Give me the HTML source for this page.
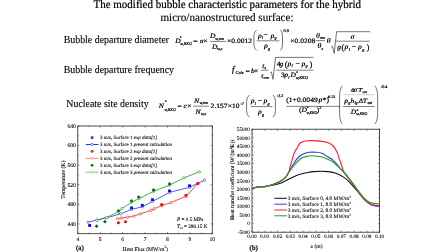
<!DOCTYPE html>
<html><head><meta charset="utf-8"><title>Bubble parameters</title>
<style>
html,body{margin:0;padding:0;background:#fff;}
body{width:448px;height:252px;overflow:hidden;}
svg{display:block;}
svg text{font-family:'Liberation Serif','Times New Roman',serif;text-rendering:geometricPrecision;}
</style></head><body>
<svg width="448" height="252" viewBox="0 0 448 252">
<rect width="448" height="252" fill="#fff"/>
<text transform="translate(227.20,7.80) scale(0.955,1)" font-size="11.5" text-anchor="middle" stroke="#000" stroke-width="0.22">The modified bubble characteristic parameters for the hybrid</text>
<text transform="translate(227.00,20.80) scale(0.977,1)" font-size="11.4" text-anchor="middle" stroke="#000" stroke-width="0.12">micro/nanostructured surface:</text>
<text transform="translate(63.70,43.40) scale(0.925,1)" font-size="10.7" stroke="#000" stroke-width="0.12">Bubble departure diameter</text>
<text transform="translate(63.70,72.80) scale(0.925,1)" font-size="10.7" stroke="#000" stroke-width="0.12">Bubble departure frequency</text>
<text transform="translate(66.30,106.50) scale(0.925,1)" font-size="10.7" stroke="#000" stroke-width="0.12">Nucleate site density</text>
<text transform="translate(175.20,43.20) scale(1.15,1)" font-size="6.6" font-style="italic" stroke="#000" stroke-width="0.2">D</text>
<text x="179.70" y="39.00" font-size="4.2" stroke="#000" stroke-width="0.2">*</text>
<text transform="translate(180.30,45.00) scale(0.95,1)" font-size="4.2" font-style="italic" stroke="#000" stroke-width="0.2">w,KKO</text>
<text transform="translate(193.20,43.20) scale(1.15,1)" font-size="6.6" stroke="#000" stroke-width="0.2">=</text>
<text transform="translate(199.80,43.20) scale(1.15,1)" font-size="6.6" font-style="italic" stroke="#000" stroke-width="0.2">a</text>
<text transform="translate(203.20,43.20) scale(1.15,1)" font-size="6.6" stroke="#000" stroke-width="0.2">×</text>
<text transform="translate(210.10,38.20) scale(1.15,1)" font-size="6.6" font-style="italic" stroke="#000" stroke-width="0.2">D</text>
<text x="215.30" y="39.70" font-size="4.2" font-style="italic" stroke="#000" stroke-width="0.2">w,nm</text>
<line x1="210.1" y1="41.4" x2="226.2" y2="41.4" stroke="#000" stroke-width="0.5"/>
<text transform="translate(212.00,48.50) scale(1.15,1)" font-size="6.6" font-style="italic" stroke="#000" stroke-width="0.2">D</text>
<text x="217.20" y="50.10" font-size="4.2" font-style="italic" stroke="#000" stroke-width="0.2">w,s</text>
<text transform="translate(227.00,43.20) scale(1.15,1)" font-size="6.6" stroke="#000" stroke-width="0.2">×0.0012</text>
<path d="M256.60,30.00 Q253.90,31.63 253.90,36.12 L253.90,44.28 Q253.90,48.77 256.60,50.40" stroke="#000" stroke-width="0.55" fill="none"/>
<text x="258.00" y="37.60" font-size="7.6" font-style="italic" font-weight="bold">ρ</text>
<text x="262.00" y="39.00" font-size="4.2" font-style="italic" stroke="#000" stroke-width="0.2">l</text>
<text transform="translate(263.60,37.40) scale(1.15,1)" font-size="6.6" stroke="#000" stroke-width="0.2">−</text>
<text x="270.40" y="37.60" font-size="7.6" font-style="italic" font-weight="bold">ρ</text>
<text x="274.40" y="39.00" font-size="4.2" font-style="italic" stroke="#000" stroke-width="0.2">g</text>
<line x1="256.7" y1="40.8" x2="279.4" y2="40.8" stroke="#000" stroke-width="0.5"/>
<text x="264.00" y="48.30" font-size="7.6" font-style="italic" font-weight="bold">ρ</text>
<text x="268.00" y="49.70" font-size="4.2" font-style="italic" stroke="#000" stroke-width="0.2">g</text>
<path d="M280.40,29.80 Q282.50,31.45 282.50,35.98 L282.50,44.22 Q282.50,48.75 280.40,50.40" stroke="#000" stroke-width="0.55" fill="none"/>
<text x="283.60" y="32.40" font-size="4.2" stroke="#000" stroke-width="0.2">0.9</text>
<text transform="translate(290.20,43.40) scale(1.15,1)" font-size="6.6" stroke="#000" stroke-width="0.2">×0.0208</text>
<text x="316.10" y="37.80" font-size="7.6" font-style="italic" font-weight="bold">θ</text>
<text x="320.00" y="39.40" font-size="4.2" font-style="italic" stroke="#000" stroke-width="0.2">nm</text>
<line x1="315.7" y1="40.6" x2="324.8" y2="40.6" stroke="#000" stroke-width="0.5"/>
<text x="317.60" y="48.20" font-size="7.6" font-style="italic" font-weight="bold">θ</text>
<text x="321.40" y="49.60" font-size="4.2" font-style="italic" stroke="#000" stroke-width="0.2">s</text>
<text x="326.80" y="43.30" font-size="7.6" font-style="italic" font-weight="bold">θ</text>
<path d="M331.3,47.2 L332.4,46.2 L334.2,53.3 L336.6,31.7 L370.2,31.7" stroke="#000" stroke-width="0.55" fill="none"/>
<text x="350.60" y="38.70" font-size="7.6" font-style="italic" font-weight="bold">σ</text>
<line x1="336.0" y1="41.2" x2="369.8" y2="41.2" stroke="#000" stroke-width="0.5"/>
<text transform="translate(337.30,49.30) scale(1.15,1)" font-size="6.6" font-style="italic" stroke="#000" stroke-width="0.2">g</text>
<text x="341.40" y="49.80" font-size="8.6" stroke="#000" stroke-width="0.2">(</text>
<text x="344.60" y="49.30" font-size="7.6" font-style="italic" font-weight="bold">ρ</text>
<text x="348.80" y="50.70" font-size="4.2" font-style="italic" stroke="#000" stroke-width="0.2">l</text>
<text transform="translate(351.80,49.30) scale(1.15,1)" font-size="6.6" stroke="#000" stroke-width="0.2">−</text>
<text x="358.00" y="49.30" font-size="7.6" font-style="italic" font-weight="bold">ρ</text>
<text x="362.20" y="50.70" font-size="4.2" font-style="italic" stroke="#000" stroke-width="0.2">g</text>
<text x="366.40" y="49.80" font-size="8.6" stroke="#000" stroke-width="0.2">)</text>
<text x="232.00" y="72.30" font-size="8.8" font-style="italic" stroke="#000" stroke-width="0.25">f</text>
<text x="235.60" y="73.60" font-size="4.2" font-style="italic" stroke="#000" stroke-width="0.2">Cole</text>
<text transform="translate(245.40,72.50) scale(1.15,1)" font-size="6.6" stroke="#000" stroke-width="0.2">=</text>
<text transform="translate(250.90,72.50) scale(1.15,1)" font-size="6.6" font-style="italic" stroke="#000" stroke-width="0.2">b</text>
<text x="254.40" y="72.50" font-size="6.6" stroke="#000" stroke-width="0.2">×</text>
<text transform="translate(262.30,68.00) scale(1.15,1)" font-size="6.6" font-style="italic" stroke="#000" stroke-width="0.2">t</text>
<text x="264.60" y="69.20" font-size="4.2" font-style="italic" stroke="#000" stroke-width="0.2">s</text>
<line x1="260.8" y1="70.2" x2="268.6" y2="70.2" stroke="#000" stroke-width="0.5"/>
<text transform="translate(261.30,78.00) scale(1.15,1)" font-size="6.6" font-style="italic" stroke="#000" stroke-width="0.2">t</text>
<text x="263.60" y="79.20" font-size="4.2" font-style="italic" stroke="#000" stroke-width="0.2">nm</text>
<path d="M270.4,72.6 L271.4,71.8 L273.0,79.3 L275.5,57.4 L313.4,57.4" stroke="#000" stroke-width="0.55" fill="none"/>
<text transform="translate(276.80,66.00) scale(1.15,1)" font-size="6.6" stroke="#000" stroke-width="0.2">4</text>
<text transform="translate(279.40,66.00) scale(1.15,1)" font-size="6.6" font-style="italic" stroke="#000" stroke-width="0.2">g</text>
<text x="284.80" y="66.60" font-size="8.6" stroke="#000" stroke-width="0.2">(</text>
<text x="287.60" y="66.00" font-size="7.6" font-style="italic" font-weight="bold">ρ</text>
<text x="291.40" y="67.40" font-size="4.2" font-style="italic" stroke="#000" stroke-width="0.2">l</text>
<text transform="translate(295.40,66.00) scale(1.15,1)" font-size="6.6" stroke="#000" stroke-width="0.2">−</text>
<text x="301.40" y="66.00" font-size="7.6" font-style="italic" font-weight="bold">ρ</text>
<text x="305.40" y="67.40" font-size="4.2" font-style="italic" stroke="#000" stroke-width="0.2">g</text>
<text x="309.60" y="66.60" font-size="8.6" stroke="#000" stroke-width="0.2">)</text>
<line x1="276.2" y1="70.2" x2="313.4" y2="70.2" stroke="#000" stroke-width="0.5"/>
<text transform="translate(281.00,77.30) scale(1.15,1)" font-size="6.6" stroke="#000" stroke-width="0.2">3</text>
<text x="284.30" y="77.30" font-size="7.6" font-style="italic" font-weight="bold">ρ</text>
<text x="288.30" y="78.70" font-size="4.2" font-style="italic" stroke="#000" stroke-width="0.2">l</text>
<text transform="translate(290.60,77.30) scale(1.15,1)" font-size="6.6" font-style="italic" stroke="#000" stroke-width="0.2">D</text>
<text x="296.00" y="74.20" font-size="4.2" stroke="#000" stroke-width="0.2">*</text>
<text x="295.80" y="78.90" font-size="4.2" font-style="italic" stroke="#000" stroke-width="0.2">w,KKO</text>
<text transform="translate(158.80,108.20) scale(1.15,1)" font-size="6.6" font-style="italic" stroke="#000" stroke-width="0.2">N</text>
<text x="164.80" y="102.80" font-size="4.2" stroke="#000" stroke-width="0.2">*</text>
<text transform="translate(164.50,110.90) scale(0.92,1)" font-size="4.2" font-style="italic" stroke="#000" stroke-width="0.2">w,KKO</text>
<text transform="translate(177.60,108.00) scale(1.15,1)" font-size="6.6" stroke="#000" stroke-width="0.2">=</text>
<text transform="translate(183.60,108.00) scale(1.15,1)" font-size="6.6" font-style="italic" stroke="#000" stroke-width="0.2">c</text>
<text transform="translate(187.20,108.00) scale(1.15,1)" font-size="6.6" stroke="#000" stroke-width="0.2">×</text>
<text transform="translate(194.00,102.70) scale(1.15,1)" font-size="6.6" font-style="italic" stroke="#000" stroke-width="0.2">N</text>
<text x="199.40" y="104.10" font-size="4.2" font-style="italic" stroke="#000" stroke-width="0.2">w,nm</text>
<line x1="193.1" y1="106.2" x2="209.0" y2="106.2" stroke="#000" stroke-width="0.5"/>
<text transform="translate(195.60,113.70) scale(1.15,1)" font-size="6.6" font-style="italic" stroke="#000" stroke-width="0.2">N</text>
<text x="201.00" y="115.10" font-size="4.2" font-style="italic" stroke="#000" stroke-width="0.2">w,s</text>
<text transform="translate(210.60,107.80) scale(1.15,1)" font-size="6.6" stroke="#000" stroke-width="0.2">2.157×10</text>
<text x="240.40" y="105.00" font-size="4.2" stroke="#000" stroke-width="0.2">-7</text>
<path d="M249.50,95.00 Q246.57,96.78 246.57,101.66 L246.57,110.54 Q246.57,115.42 249.50,117.20" stroke="#000" stroke-width="0.55" fill="none"/>
<text x="250.80" y="103.20" font-size="7.6" font-style="italic" font-weight="bold">ρ</text>
<text x="254.80" y="104.60" font-size="4.2" font-style="italic" stroke="#000" stroke-width="0.2">l</text>
<text transform="translate(257.80,103.20) scale(1.15,1)" font-size="6.6" stroke="#000" stroke-width="0.2">−</text>
<text x="263.60" y="103.20" font-size="7.6" font-style="italic" font-weight="bold">ρ</text>
<text x="267.60" y="104.60" font-size="4.2" font-style="italic" stroke="#000" stroke-width="0.2">g</text>
<line x1="250.6" y1="106.6" x2="272.6" y2="106.6" stroke="#000" stroke-width="0.5"/>
<text x="257.90" y="114.20" font-size="7.6" font-style="italic" font-weight="bold">ρ</text>
<text x="261.90" y="115.60" font-size="4.2" font-style="italic" stroke="#000" stroke-width="0.2">g</text>
<path d="M273.00,95.00 Q275.40,96.78 275.40,101.66 L275.40,110.54 Q275.40,115.42 273.00,117.20" stroke="#000" stroke-width="0.55" fill="none"/>
<text x="276.80" y="96.80" font-size="4.2" stroke="#000" stroke-width="0.2">-3.2</text>
<text transform="translate(286.30,101.70) scale(1.15,1)" font-size="6.6" stroke="#000" stroke-width="0.2">(1+0.0049</text>
<text x="318.60" y="101.70" font-size="7.6" font-style="italic" font-weight="bold">ρ</text>
<text transform="translate(322.60,101.70) scale(1.15,1)" font-size="6.6" stroke="#000" stroke-width="0.2">*</text>
<text transform="translate(326.60,101.70) scale(1.15,1)" font-size="6.6" stroke="#000" stroke-width="0.2">)</text>
<text x="327.80" y="97.80" font-size="4.2" stroke="#000" stroke-width="0.2">4.13</text>
<line x1="286.3" y1="106.4" x2="340.3" y2="106.4" stroke="#000" stroke-width="0.5"/>
<text transform="translate(299.00,112.30) scale(1.15,1)" font-size="6.6" stroke="#000" stroke-width="0.2">(</text>
<text transform="translate(301.60,112.30) scale(1.15,1)" font-size="6.6" font-style="italic" stroke="#000" stroke-width="0.2">D</text>
<text x="306.60" y="108.60" font-size="4.2" stroke="#000" stroke-width="0.2">*</text>
<text transform="translate(306.40,113.60) scale(0.9,1)" font-size="4.2" font-style="italic" stroke="#000" stroke-width="0.2">w,KKO</text>
<text transform="translate(316.80,112.30) scale(1.15,1)" font-size="6.6" stroke="#000" stroke-width="0.2">)</text>
<text x="319.20" y="109.00" font-size="4.2" stroke="#000" stroke-width="0.2">2</text>
<path d="M342.40,85.80 Q339.55,88.86 339.55,97.29 L339.55,112.61 Q339.55,121.04 342.40,124.10" stroke="#000" stroke-width="0.55" fill="none"/>
<text transform="translate(350.80,92.30) scale(1.15,1)" font-size="5.9399999999999995" stroke="#000" stroke-width="0.2">4</text>
<text x="353.40" y="92.30" font-size="7.6" font-style="italic" font-weight="bold">σ</text>
<text transform="translate(358.20,92.30) scale(1.15,1)" font-size="5.9399999999999995" font-style="italic" stroke="#000" stroke-width="0.2">T</text>
<text x="362.60" y="93.30" font-size="3.57" font-style="italic" stroke="#000" stroke-width="0.2">sat</text>
<line x1="343.7" y1="94.7" x2="374.2" y2="94.7" stroke="#888" stroke-width="0.4"/>
<text x="344.30" y="103.00" font-size="7.6" font-style="italic" font-weight="bold">ρ</text>
<text x="348.30" y="104.40" font-size="4.2" font-style="italic" stroke="#000" stroke-width="0.2">g</text>
<text transform="translate(350.60,103.00) scale(1.15,1)" font-size="6.6" font-style="italic" stroke="#000" stroke-width="0.2">h</text>
<text x="354.40" y="104.40" font-size="4.2" font-style="italic" stroke="#000" stroke-width="0.2">lg</text>
<text transform="translate(358.40,103.00) scale(1.15,1)" font-size="6.6" font-style="italic" stroke="#000" stroke-width="0.2">ΔT</text>
<text x="367.40" y="104.40" font-size="4.2" font-style="italic" stroke="#000" stroke-width="0.2">sat</text>
<line x1="343.0" y1="106.5" x2="374.8" y2="106.5" stroke="#000" stroke-width="0.5"/>
<text transform="translate(350.80,113.60) scale(1.15,1)" font-size="6.6" font-style="italic" stroke="#000" stroke-width="0.2">D</text>
<text x="356.40" y="111.60" font-size="4.2" stroke="#000" stroke-width="0.2">*</text>
<text transform="translate(356.20,115.20) scale(0.92,1)" font-size="4.2" font-style="italic" stroke="#000" stroke-width="0.2">w,KKO</text>
<path d="M374.80,85.80 Q377.65,88.86 377.65,97.29 L377.65,112.61 Q377.65,121.04 374.80,124.10" stroke="#000" stroke-width="0.55" fill="none"/>
<text x="380.80" y="87.80" font-size="4.2" stroke="#000" stroke-width="0.2">-0.4</text>
<rect x="77.8" y="126.0" width="134.5" height="107.7" fill="none" stroke="#222" stroke-width="0.8"/>
<line x1="77.8" y1="233.7" x2="77.8" y2="232.1" stroke="#222" stroke-width="0.5"/>
<line x1="77.8" y1="126" x2="77.8" y2="127.6" stroke="#222" stroke-width="0.5"/>
<line x1="89.01" y1="233.7" x2="89.01" y2="232.7" stroke="#222" stroke-width="0.5"/>
<line x1="89.01" y1="126" x2="89.01" y2="127" stroke="#222" stroke-width="0.5"/>
<line x1="100.22" y1="233.7" x2="100.22" y2="232.1" stroke="#222" stroke-width="0.5"/>
<line x1="100.22" y1="126" x2="100.22" y2="127.6" stroke="#222" stroke-width="0.5"/>
<line x1="111.42" y1="233.7" x2="111.42" y2="232.7" stroke="#222" stroke-width="0.5"/>
<line x1="111.42" y1="126" x2="111.42" y2="127" stroke="#222" stroke-width="0.5"/>
<line x1="122.63" y1="233.7" x2="122.63" y2="232.1" stroke="#222" stroke-width="0.5"/>
<line x1="122.63" y1="126" x2="122.63" y2="127.6" stroke="#222" stroke-width="0.5"/>
<line x1="133.84" y1="233.7" x2="133.84" y2="232.7" stroke="#222" stroke-width="0.5"/>
<line x1="133.84" y1="126" x2="133.84" y2="127" stroke="#222" stroke-width="0.5"/>
<line x1="145.05" y1="233.7" x2="145.05" y2="232.1" stroke="#222" stroke-width="0.5"/>
<line x1="145.05" y1="126" x2="145.05" y2="127.6" stroke="#222" stroke-width="0.5"/>
<line x1="156.26" y1="233.7" x2="156.26" y2="232.7" stroke="#222" stroke-width="0.5"/>
<line x1="156.26" y1="126" x2="156.26" y2="127" stroke="#222" stroke-width="0.5"/>
<line x1="167.47" y1="233.7" x2="167.47" y2="232.1" stroke="#222" stroke-width="0.5"/>
<line x1="167.47" y1="126" x2="167.47" y2="127.6" stroke="#222" stroke-width="0.5"/>
<line x1="178.68" y1="233.7" x2="178.68" y2="232.7" stroke="#222" stroke-width="0.5"/>
<line x1="178.68" y1="126" x2="178.68" y2="127" stroke="#222" stroke-width="0.5"/>
<line x1="189.88" y1="233.7" x2="189.88" y2="232.1" stroke="#222" stroke-width="0.5"/>
<line x1="189.88" y1="126" x2="189.88" y2="127.6" stroke="#222" stroke-width="0.5"/>
<line x1="201.09" y1="233.7" x2="201.09" y2="232.7" stroke="#222" stroke-width="0.5"/>
<line x1="201.09" y1="126" x2="201.09" y2="127" stroke="#222" stroke-width="0.5"/>
<line x1="212.3" y1="233.7" x2="212.3" y2="232.1" stroke="#222" stroke-width="0.5"/>
<line x1="212.3" y1="126" x2="212.3" y2="127.6" stroke="#222" stroke-width="0.5"/>
<line x1="77.8" y1="233.7" x2="78.8" y2="233.7" stroke="#222" stroke-width="0.5"/>
<line x1="212.3" y1="233.7" x2="211.3" y2="233.7" stroke="#222" stroke-width="0.5"/>
<line x1="77.8" y1="223.91" x2="79.4" y2="223.91" stroke="#222" stroke-width="0.5"/>
<line x1="212.3" y1="223.91" x2="210.7" y2="223.91" stroke="#222" stroke-width="0.5"/>
<line x1="77.8" y1="214.12" x2="78.8" y2="214.12" stroke="#222" stroke-width="0.5"/>
<line x1="212.3" y1="214.12" x2="211.3" y2="214.12" stroke="#222" stroke-width="0.5"/>
<line x1="77.8" y1="204.33" x2="79.4" y2="204.33" stroke="#222" stroke-width="0.5"/>
<line x1="212.3" y1="204.33" x2="210.7" y2="204.33" stroke="#222" stroke-width="0.5"/>
<line x1="77.8" y1="194.54" x2="78.8" y2="194.54" stroke="#222" stroke-width="0.5"/>
<line x1="212.3" y1="194.54" x2="211.3" y2="194.54" stroke="#222" stroke-width="0.5"/>
<line x1="77.8" y1="184.75" x2="79.4" y2="184.75" stroke="#222" stroke-width="0.5"/>
<line x1="212.3" y1="184.75" x2="210.7" y2="184.75" stroke="#222" stroke-width="0.5"/>
<line x1="77.8" y1="174.95" x2="78.8" y2="174.95" stroke="#222" stroke-width="0.5"/>
<line x1="212.3" y1="174.95" x2="211.3" y2="174.95" stroke="#222" stroke-width="0.5"/>
<line x1="77.8" y1="165.16" x2="79.4" y2="165.16" stroke="#222" stroke-width="0.5"/>
<line x1="212.3" y1="165.16" x2="210.7" y2="165.16" stroke="#222" stroke-width="0.5"/>
<line x1="77.8" y1="155.37" x2="78.8" y2="155.37" stroke="#222" stroke-width="0.5"/>
<line x1="212.3" y1="155.37" x2="211.3" y2="155.37" stroke="#222" stroke-width="0.5"/>
<line x1="77.8" y1="145.58" x2="79.4" y2="145.58" stroke="#222" stroke-width="0.5"/>
<line x1="212.3" y1="145.58" x2="210.7" y2="145.58" stroke="#222" stroke-width="0.5"/>
<line x1="77.8" y1="135.79" x2="78.8" y2="135.79" stroke="#222" stroke-width="0.5"/>
<line x1="212.3" y1="135.79" x2="211.3" y2="135.79" stroke="#222" stroke-width="0.5"/>
<line x1="77.8" y1="126" x2="79.4" y2="126" stroke="#222" stroke-width="0.5"/>
<line x1="212.3" y1="126" x2="210.7" y2="126" stroke="#222" stroke-width="0.5"/>
<text x="75.8" y="225.81" font-size="5.6" text-anchor="end" stroke="#000" stroke-width="0.1">440</text>
<text x="75.8" y="206.23" font-size="5.6" text-anchor="end" stroke="#000" stroke-width="0.1">480</text>
<text x="75.8" y="186.65" font-size="5.6" text-anchor="end" stroke="#000" stroke-width="0.1">520</text>
<text x="75.8" y="167.06" font-size="5.6" text-anchor="end" stroke="#000" stroke-width="0.1">560</text>
<text x="75.8" y="147.48" font-size="5.6" text-anchor="end" stroke="#000" stroke-width="0.1">600</text>
<text x="75.8" y="127.9" font-size="5.6" text-anchor="end" stroke="#000" stroke-width="0.1">640</text>
<text x="77.8" y="240.9" font-size="5.6" text-anchor="middle" stroke="#000" stroke-width="0.1">4</text>
<text x="100.22" y="240.9" font-size="5.6" text-anchor="middle" stroke="#000" stroke-width="0.1">5</text>
<text x="122.63" y="240.9" font-size="5.6" text-anchor="middle" stroke="#000" stroke-width="0.1">6</text>
<text x="145.05" y="240.9" font-size="5.6" text-anchor="middle" stroke="#000" stroke-width="0.1">7</text>
<text x="167.47" y="240.9" font-size="5.6" text-anchor="middle" stroke="#000" stroke-width="0.1">8</text>
<text x="189.88" y="240.9" font-size="5.6" text-anchor="middle" stroke="#000" stroke-width="0.1">9</text>
<text x="212.3" y="240.9" font-size="5.6" text-anchor="middle" stroke="#000" stroke-width="0.1">10</text>
<text x="122.6" y="250.5" font-size="5.6" stroke="#000" stroke-width="0.1">Heat Flux (MW/m<tspan font-size="3.4" dy="-2.2">2</tspan><tspan dy="2.2">)</tspan></text>
<text x="76" y="249.6" font-size="7.0" stroke="#000" stroke-width="0.3">(a)</text>
<text x="0" y="0" font-size="5.7" text-anchor="middle" stroke="#000" stroke-width="0.1" transform="translate(65.4,179.7) rotate(-90)">Temperature (K)</text>
<text x="177.1" y="221.2" font-size="5.2" stroke="#000" stroke-width="0.1"><tspan font-style="italic">P</tspan> = 0.5 MPa</text>
<text x="177.1" y="227.8" font-size="5.2" stroke="#000" stroke-width="0.1"><tspan font-style="italic">T</tspan><tspan font-size="3.4" dy="0.9" font-style="italic">in</tspan><tspan dy="-0.9"> = 298.15 K</tspan></text>
<polyline points="88.1,222.2 97,220 106.5,217.8 120.7,213.8 131.5,209.4 142.3,206.8 152.4,201.4 169.5,192.4 189.5,187.3 204.4,180.1" fill="none" stroke="#2233ff" stroke-width="0.8" stroke-linejoin="round" stroke-linecap="round"/>
<polyline points="96.9,220.3 106.5,217.4 118.2,212 122,208.6 131.5,202.3 138.9,198.7 153.6,191.3 169.5,185.2 183.9,177.9 199.4,171.8" fill="none" stroke="#1a9a1a" stroke-width="0.8" stroke-linejoin="round" stroke-linecap="round"/>
<polyline points="117.5,218.7 121.8,218 127.6,217.2 133.6,216.2 140.2,213.9 151,210.3 154.1,208.8 161.7,205.6 170.6,202.7 186,196.3 197.8,183.5" fill="none" stroke="#ff1a1a" stroke-width="0.8" stroke-linejoin="round" stroke-linecap="round"/>
<circle cx="88.1" cy="222.2" r="1.2" fill="#fff" stroke="#2233ff" stroke-width="0.6"/>
<circle cx="97" cy="220" r="1.2" fill="#fff" stroke="#2233ff" stroke-width="0.6"/>
<circle cx="106.5" cy="217.8" r="1.2" fill="#fff" stroke="#2233ff" stroke-width="0.6"/>
<circle cx="120.7" cy="213.8" r="1.2" fill="#fff" stroke="#2233ff" stroke-width="0.6"/>
<circle cx="131.5" cy="209.4" r="1.2" fill="#fff" stroke="#2233ff" stroke-width="0.6"/>
<circle cx="142.3" cy="206.8" r="1.2" fill="#fff" stroke="#2233ff" stroke-width="0.6"/>
<circle cx="152.4" cy="201.4" r="1.2" fill="#fff" stroke="#2233ff" stroke-width="0.6"/>
<circle cx="169.5" cy="192.4" r="1.2" fill="#fff" stroke="#2233ff" stroke-width="0.6"/>
<circle cx="189.5" cy="187.3" r="1.2" fill="#fff" stroke="#2233ff" stroke-width="0.6"/>
<circle cx="204.4" cy="180.1" r="1.2" fill="#fff" stroke="#2233ff" stroke-width="0.6"/>
<circle cx="96.9" cy="220.3" r="1.2" fill="#fff" stroke="#1a9a1a" stroke-width="0.6"/>
<circle cx="106.5" cy="217.4" r="1.2" fill="#fff" stroke="#1a9a1a" stroke-width="0.6"/>
<circle cx="118.2" cy="212" r="1.2" fill="#fff" stroke="#1a9a1a" stroke-width="0.6"/>
<circle cx="122" cy="208.6" r="1.2" fill="#fff" stroke="#1a9a1a" stroke-width="0.6"/>
<circle cx="131.5" cy="202.3" r="1.2" fill="#fff" stroke="#1a9a1a" stroke-width="0.6"/>
<circle cx="138.9" cy="198.7" r="1.2" fill="#fff" stroke="#1a9a1a" stroke-width="0.6"/>
<circle cx="153.6" cy="191.3" r="1.2" fill="#fff" stroke="#1a9a1a" stroke-width="0.6"/>
<circle cx="169.5" cy="185.2" r="1.2" fill="#fff" stroke="#1a9a1a" stroke-width="0.6"/>
<circle cx="183.9" cy="177.9" r="1.2" fill="#fff" stroke="#1a9a1a" stroke-width="0.6"/>
<circle cx="199.4" cy="171.8" r="1.2" fill="#fff" stroke="#1a9a1a" stroke-width="0.6"/>
<circle cx="117.5" cy="218.7" r="1.2" fill="#fff" stroke="#ff1a1a" stroke-width="0.6"/>
<circle cx="121.8" cy="218" r="1.2" fill="#fff" stroke="#ff1a1a" stroke-width="0.6"/>
<circle cx="127.6" cy="217.2" r="1.2" fill="#fff" stroke="#ff1a1a" stroke-width="0.6"/>
<circle cx="133.6" cy="216.2" r="1.2" fill="#fff" stroke="#ff1a1a" stroke-width="0.6"/>
<circle cx="140.2" cy="213.9" r="1.2" fill="#fff" stroke="#ff1a1a" stroke-width="0.6"/>
<circle cx="151" cy="210.3" r="1.2" fill="#fff" stroke="#ff1a1a" stroke-width="0.6"/>
<circle cx="154.1" cy="208.8" r="1.2" fill="#fff" stroke="#ff1a1a" stroke-width="0.6"/>
<circle cx="161.7" cy="205.6" r="1.2" fill="#fff" stroke="#ff1a1a" stroke-width="0.6"/>
<circle cx="170.6" cy="202.7" r="1.2" fill="#fff" stroke="#ff1a1a" stroke-width="0.6"/>
<circle cx="186" cy="196.3" r="1.2" fill="#fff" stroke="#ff1a1a" stroke-width="0.6"/>
<circle cx="197.8" cy="183.5" r="1.2" fill="#fff" stroke="#ff1a1a" stroke-width="0.6"/>
<rect x="88.2" y="224.1" width="2.8" height="2.8" fill="#0000ff"/>
<rect x="130.1" y="206.5" width="2.8" height="2.8" fill="#0000ff"/>
<rect x="140.9" y="203.9" width="2.8" height="2.8" fill="#0000ff"/>
<rect x="151.1" y="198.3" width="2.8" height="2.8" fill="#0000ff"/>
<rect x="168.1" y="189.5" width="2.8" height="2.8" fill="#0000ff"/>
<rect x="188.1" y="184.4" width="2.8" height="2.8" fill="#0000ff"/>
<circle cx="118.4" cy="222.7" r="1.5" fill="#ff0000"/>
<circle cx="125.5" cy="221.8" r="1.5" fill="#ff0000"/>
<circle cx="161.7" cy="204.6" r="1.5" fill="#ff0000"/>
<circle cx="186" cy="195.3" r="1.5" fill="#ff0000"/>
<circle cx="197.8" cy="183.5" r="1.5" fill="#ff0000"/>
<path d="M96.6,224.3 L98.5,226.2 L96.6,228.1 L94.7,226.2 Z" fill="#0a6e0a"/>
<path d="M104.9,219.8 L106.8,221.7 L104.9,223.6 L103,221.7 Z" fill="#0a6e0a"/>
<path d="M118.4,208.9 L120.3,210.8 L118.4,212.7 L116.5,210.8 Z" fill="#0a6e0a"/>
<path d="M131.5,199 L133.4,200.9 L131.5,202.8 L129.6,200.9 Z" fill="#0a6e0a"/>
<path d="M138.7,195.2 L140.6,197.1 L138.7,199 L136.8,197.1 Z" fill="#0a6e0a"/>
<path d="M153.6,188.1 L155.5,190 L153.6,191.9 L151.7,190 Z" fill="#0a6e0a"/>
<path d="M169.5,182 L171.4,183.9 L169.5,185.8 L167.6,183.9 Z" fill="#0a6e0a"/>
<rect x="90.8" y="136.3" width="2.6" height="2.6" fill="#2233ff"/>
<text x="100.1" y="139.4" font-size="5.0" stroke="#000" stroke-width="0.1">3 m/s, Surface 1 <tspan font-style="italic">exp data[1]</tspan></text>
<line x1="85.7" y1="144.52" x2="98.4" y2="144.52" stroke="#2233ff" stroke-width="1.0"/>
<circle cx="92.1" cy="144.52" r="1.2" fill="#fff" stroke="#2233ff" stroke-width="0.6"/>
<text x="100.1" y="146.32" font-size="5.0" stroke="#000" stroke-width="0.1">3 m/s, Surface 1 <tspan font-style="italic">present calculation</tspan></text>
<circle cx="92.1" cy="151.44" r="1.4" fill="#ff1a1a"/>
<text x="100.1" y="153.24" font-size="5.0" stroke="#000" stroke-width="0.1">3 m/s, Surface 2 <tspan font-style="italic">exp data[1]</tspan></text>
<line x1="85.7" y1="158.36" x2="98.4" y2="158.36" stroke="#ff7a80" stroke-width="1.0"/>
<circle cx="92.1" cy="158.36" r="1.2" fill="#fff" stroke="#ff7a80" stroke-width="0.6"/>
<text x="100.1" y="160.16" font-size="5.0" stroke="#000" stroke-width="0.1">3 m/s, Surface 2 <tspan font-style="italic">present calculation</tspan></text>
<circle cx="92.1" cy="165.28" r="1.35" fill="#0a6e0a"/>
<text x="100.1" y="167.08" font-size="5.0" stroke="#000" stroke-width="0.1">3 m/s, Surface 3 <tspan font-style="italic">exp data[1]</tspan></text>
<line x1="85.7" y1="172.2" x2="98.4" y2="172.2" stroke="#7cc47c" stroke-width="1.0"/>
<circle cx="92.1" cy="172.2" r="1.2" fill="#fff" stroke="#7cc47c" stroke-width="0.6"/>
<text x="100.1" y="174" font-size="5.0" stroke="#000" stroke-width="0.1">3 m/s, Surface 3 <tspan font-style="italic">present calculation</tspan></text>
<rect x="252.0" y="129.2" width="127.6" height="103" fill="none" stroke="#222" stroke-width="0.8"/>
<line x1="252" y1="232.2" x2="252" y2="230.6" stroke="#222" stroke-width="0.5"/>
<line x1="252" y1="129.2" x2="252" y2="130.8" stroke="#222" stroke-width="0.5"/>
<line x1="258.38" y1="232.2" x2="258.38" y2="231.2" stroke="#222" stroke-width="0.5"/>
<line x1="258.38" y1="129.2" x2="258.38" y2="130.2" stroke="#222" stroke-width="0.5"/>
<line x1="264.76" y1="232.2" x2="264.76" y2="230.6" stroke="#222" stroke-width="0.5"/>
<line x1="264.76" y1="129.2" x2="264.76" y2="130.8" stroke="#222" stroke-width="0.5"/>
<line x1="271.14" y1="232.2" x2="271.14" y2="231.2" stroke="#222" stroke-width="0.5"/>
<line x1="271.14" y1="129.2" x2="271.14" y2="130.2" stroke="#222" stroke-width="0.5"/>
<line x1="277.52" y1="232.2" x2="277.52" y2="230.6" stroke="#222" stroke-width="0.5"/>
<line x1="277.52" y1="129.2" x2="277.52" y2="130.8" stroke="#222" stroke-width="0.5"/>
<line x1="283.9" y1="232.2" x2="283.9" y2="231.2" stroke="#222" stroke-width="0.5"/>
<line x1="283.9" y1="129.2" x2="283.9" y2="130.2" stroke="#222" stroke-width="0.5"/>
<line x1="290.28" y1="232.2" x2="290.28" y2="230.6" stroke="#222" stroke-width="0.5"/>
<line x1="290.28" y1="129.2" x2="290.28" y2="130.8" stroke="#222" stroke-width="0.5"/>
<line x1="296.66" y1="232.2" x2="296.66" y2="231.2" stroke="#222" stroke-width="0.5"/>
<line x1="296.66" y1="129.2" x2="296.66" y2="130.2" stroke="#222" stroke-width="0.5"/>
<line x1="303.04" y1="232.2" x2="303.04" y2="230.6" stroke="#222" stroke-width="0.5"/>
<line x1="303.04" y1="129.2" x2="303.04" y2="130.8" stroke="#222" stroke-width="0.5"/>
<line x1="309.42" y1="232.2" x2="309.42" y2="231.2" stroke="#222" stroke-width="0.5"/>
<line x1="309.42" y1="129.2" x2="309.42" y2="130.2" stroke="#222" stroke-width="0.5"/>
<line x1="315.8" y1="232.2" x2="315.8" y2="230.6" stroke="#222" stroke-width="0.5"/>
<line x1="315.8" y1="129.2" x2="315.8" y2="130.8" stroke="#222" stroke-width="0.5"/>
<line x1="322.18" y1="232.2" x2="322.18" y2="231.2" stroke="#222" stroke-width="0.5"/>
<line x1="322.18" y1="129.2" x2="322.18" y2="130.2" stroke="#222" stroke-width="0.5"/>
<line x1="328.56" y1="232.2" x2="328.56" y2="230.6" stroke="#222" stroke-width="0.5"/>
<line x1="328.56" y1="129.2" x2="328.56" y2="130.8" stroke="#222" stroke-width="0.5"/>
<line x1="334.94" y1="232.2" x2="334.94" y2="231.2" stroke="#222" stroke-width="0.5"/>
<line x1="334.94" y1="129.2" x2="334.94" y2="130.2" stroke="#222" stroke-width="0.5"/>
<line x1="341.32" y1="232.2" x2="341.32" y2="230.6" stroke="#222" stroke-width="0.5"/>
<line x1="341.32" y1="129.2" x2="341.32" y2="130.8" stroke="#222" stroke-width="0.5"/>
<line x1="347.7" y1="232.2" x2="347.7" y2="231.2" stroke="#222" stroke-width="0.5"/>
<line x1="347.7" y1="129.2" x2="347.7" y2="130.2" stroke="#222" stroke-width="0.5"/>
<line x1="354.08" y1="232.2" x2="354.08" y2="230.6" stroke="#222" stroke-width="0.5"/>
<line x1="354.08" y1="129.2" x2="354.08" y2="130.8" stroke="#222" stroke-width="0.5"/>
<line x1="360.46" y1="232.2" x2="360.46" y2="231.2" stroke="#222" stroke-width="0.5"/>
<line x1="360.46" y1="129.2" x2="360.46" y2="130.2" stroke="#222" stroke-width="0.5"/>
<line x1="366.84" y1="232.2" x2="366.84" y2="230.6" stroke="#222" stroke-width="0.5"/>
<line x1="366.84" y1="129.2" x2="366.84" y2="130.8" stroke="#222" stroke-width="0.5"/>
<line x1="373.22" y1="232.2" x2="373.22" y2="231.2" stroke="#222" stroke-width="0.5"/>
<line x1="373.22" y1="129.2" x2="373.22" y2="130.2" stroke="#222" stroke-width="0.5"/>
<line x1="379.6" y1="232.2" x2="379.6" y2="230.6" stroke="#222" stroke-width="0.5"/>
<line x1="379.6" y1="129.2" x2="379.6" y2="130.8" stroke="#222" stroke-width="0.5"/>
<line x1="252" y1="232.2" x2="253.6" y2="232.2" stroke="#222" stroke-width="0.5"/>
<line x1="379.6" y1="232.2" x2="378" y2="232.2" stroke="#222" stroke-width="0.5"/>
<line x1="252" y1="227.91" x2="253" y2="227.91" stroke="#222" stroke-width="0.5"/>
<line x1="379.6" y1="227.91" x2="378.6" y2="227.91" stroke="#222" stroke-width="0.5"/>
<line x1="252" y1="223.62" x2="253.6" y2="223.62" stroke="#222" stroke-width="0.5"/>
<line x1="379.6" y1="223.62" x2="378" y2="223.62" stroke="#222" stroke-width="0.5"/>
<line x1="252" y1="219.32" x2="253" y2="219.32" stroke="#222" stroke-width="0.5"/>
<line x1="379.6" y1="219.32" x2="378.6" y2="219.32" stroke="#222" stroke-width="0.5"/>
<line x1="252" y1="215.03" x2="253.6" y2="215.03" stroke="#222" stroke-width="0.5"/>
<line x1="379.6" y1="215.03" x2="378" y2="215.03" stroke="#222" stroke-width="0.5"/>
<line x1="252" y1="210.74" x2="253" y2="210.74" stroke="#222" stroke-width="0.5"/>
<line x1="379.6" y1="210.74" x2="378.6" y2="210.74" stroke="#222" stroke-width="0.5"/>
<line x1="252" y1="206.45" x2="253.6" y2="206.45" stroke="#222" stroke-width="0.5"/>
<line x1="379.6" y1="206.45" x2="378" y2="206.45" stroke="#222" stroke-width="0.5"/>
<line x1="252" y1="202.16" x2="253" y2="202.16" stroke="#222" stroke-width="0.5"/>
<line x1="379.6" y1="202.16" x2="378.6" y2="202.16" stroke="#222" stroke-width="0.5"/>
<line x1="252" y1="197.87" x2="253.6" y2="197.87" stroke="#222" stroke-width="0.5"/>
<line x1="379.6" y1="197.87" x2="378" y2="197.87" stroke="#222" stroke-width="0.5"/>
<line x1="252" y1="193.57" x2="253" y2="193.57" stroke="#222" stroke-width="0.5"/>
<line x1="379.6" y1="193.57" x2="378.6" y2="193.57" stroke="#222" stroke-width="0.5"/>
<line x1="252" y1="189.28" x2="253.6" y2="189.28" stroke="#222" stroke-width="0.5"/>
<line x1="379.6" y1="189.28" x2="378" y2="189.28" stroke="#222" stroke-width="0.5"/>
<line x1="252" y1="184.99" x2="253" y2="184.99" stroke="#222" stroke-width="0.5"/>
<line x1="379.6" y1="184.99" x2="378.6" y2="184.99" stroke="#222" stroke-width="0.5"/>
<line x1="252" y1="180.7" x2="253.6" y2="180.7" stroke="#222" stroke-width="0.5"/>
<line x1="379.6" y1="180.7" x2="378" y2="180.7" stroke="#222" stroke-width="0.5"/>
<line x1="252" y1="176.41" x2="253" y2="176.41" stroke="#222" stroke-width="0.5"/>
<line x1="379.6" y1="176.41" x2="378.6" y2="176.41" stroke="#222" stroke-width="0.5"/>
<line x1="252" y1="172.12" x2="253.6" y2="172.12" stroke="#222" stroke-width="0.5"/>
<line x1="379.6" y1="172.12" x2="378" y2="172.12" stroke="#222" stroke-width="0.5"/>
<line x1="252" y1="167.82" x2="253" y2="167.82" stroke="#222" stroke-width="0.5"/>
<line x1="379.6" y1="167.82" x2="378.6" y2="167.82" stroke="#222" stroke-width="0.5"/>
<line x1="252" y1="163.53" x2="253.6" y2="163.53" stroke="#222" stroke-width="0.5"/>
<line x1="379.6" y1="163.53" x2="378" y2="163.53" stroke="#222" stroke-width="0.5"/>
<line x1="252" y1="159.24" x2="253" y2="159.24" stroke="#222" stroke-width="0.5"/>
<line x1="379.6" y1="159.24" x2="378.6" y2="159.24" stroke="#222" stroke-width="0.5"/>
<line x1="252" y1="154.95" x2="253.6" y2="154.95" stroke="#222" stroke-width="0.5"/>
<line x1="379.6" y1="154.95" x2="378" y2="154.95" stroke="#222" stroke-width="0.5"/>
<line x1="252" y1="150.66" x2="253" y2="150.66" stroke="#222" stroke-width="0.5"/>
<line x1="379.6" y1="150.66" x2="378.6" y2="150.66" stroke="#222" stroke-width="0.5"/>
<line x1="252" y1="146.37" x2="253.6" y2="146.37" stroke="#222" stroke-width="0.5"/>
<line x1="379.6" y1="146.37" x2="378" y2="146.37" stroke="#222" stroke-width="0.5"/>
<line x1="252" y1="142.07" x2="253" y2="142.07" stroke="#222" stroke-width="0.5"/>
<line x1="379.6" y1="142.07" x2="378.6" y2="142.07" stroke="#222" stroke-width="0.5"/>
<line x1="252" y1="137.78" x2="253.6" y2="137.78" stroke="#222" stroke-width="0.5"/>
<line x1="379.6" y1="137.78" x2="378" y2="137.78" stroke="#222" stroke-width="0.5"/>
<line x1="252" y1="133.49" x2="253" y2="133.49" stroke="#222" stroke-width="0.5"/>
<line x1="379.6" y1="133.49" x2="378.6" y2="133.49" stroke="#222" stroke-width="0.5"/>
<line x1="252" y1="129.2" x2="253.6" y2="129.2" stroke="#222" stroke-width="0.5"/>
<line x1="379.6" y1="129.2" x2="378" y2="129.2" stroke="#222" stroke-width="0.5"/>
<text x="250" y="234" font-size="5.3" text-anchor="end" stroke="#000" stroke-width="0.1">-5000</text>
<text x="250" y="225.42" font-size="5.3" text-anchor="end" stroke="#000" stroke-width="0.1">0</text>
<text x="250" y="216.83" font-size="5.3" text-anchor="end" stroke="#000" stroke-width="0.1">5000</text>
<text x="250" y="208.25" font-size="5.3" text-anchor="end" stroke="#000" stroke-width="0.1">10000</text>
<text x="250" y="199.67" font-size="5.3" text-anchor="end" stroke="#000" stroke-width="0.1">15000</text>
<text x="250" y="191.08" font-size="5.3" text-anchor="end" stroke="#000" stroke-width="0.1">20000</text>
<text x="250" y="182.5" font-size="5.3" text-anchor="end" stroke="#000" stroke-width="0.1">25000</text>
<text x="250" y="173.92" font-size="5.3" text-anchor="end" stroke="#000" stroke-width="0.1">30000</text>
<text x="250" y="165.33" font-size="5.3" text-anchor="end" stroke="#000" stroke-width="0.1">35000</text>
<text x="250" y="156.75" font-size="5.3" text-anchor="end" stroke="#000" stroke-width="0.1">40000</text>
<text x="250" y="148.17" font-size="5.3" text-anchor="end" stroke="#000" stroke-width="0.1">45000</text>
<text x="250" y="139.58" font-size="5.3" text-anchor="end" stroke="#000" stroke-width="0.1">50000</text>
<text x="250" y="131" font-size="5.3" text-anchor="end" stroke="#000" stroke-width="0.1">55000</text>
<text x="252" y="238.4" font-size="5.3" text-anchor="middle" stroke="#000" stroke-width="0.1">0.00</text>
<text x="264.76" y="238.4" font-size="5.3" text-anchor="middle" stroke="#000" stroke-width="0.1">0.01</text>
<text x="277.52" y="238.4" font-size="5.3" text-anchor="middle" stroke="#000" stroke-width="0.1">0.02</text>
<text x="290.28" y="238.4" font-size="5.3" text-anchor="middle" stroke="#000" stroke-width="0.1">0.03</text>
<text x="303.04" y="238.4" font-size="5.3" text-anchor="middle" stroke="#000" stroke-width="0.1">0.04</text>
<text x="315.8" y="238.4" font-size="5.3" text-anchor="middle" stroke="#000" stroke-width="0.1">0.05</text>
<text x="328.56" y="238.4" font-size="5.3" text-anchor="middle" stroke="#000" stroke-width="0.1">0.06</text>
<text x="341.32" y="238.4" font-size="5.3" text-anchor="middle" stroke="#000" stroke-width="0.1">0.07</text>
<text x="354.08" y="238.4" font-size="5.3" text-anchor="middle" stroke="#000" stroke-width="0.1">0.08</text>
<text x="366.84" y="238.4" font-size="5.3" text-anchor="middle" stroke="#000" stroke-width="0.1">0.09</text>
<text x="379.6" y="238.4" font-size="5.3" text-anchor="middle" stroke="#000" stroke-width="0.1">0.10</text>
<text x="310.6" y="247.9" font-size="5.6" stroke="#000" stroke-width="0.1"><tspan font-style="italic">x</tspan> (m)</text>
<text x="249.6" y="249.6" font-size="7.0" stroke="#000" stroke-width="0.3">(b)</text>
<text x="0" y="0" font-size="5.6" text-anchor="middle" stroke="#000" stroke-width="0.1" transform="translate(234.2,179.9) rotate(-90)">Heat transfer coefficient (W/(m<tspan font-size="3.4" dy="-2.2">2</tspan><tspan dy="2.2">K))</tspan></text>
<path d="M252.3,188.6 C253.1,188.33 255.03,187.33 257.1,187 C259.17,186.67 262.17,186.88 264.7,186.6 C267.23,186.32 269.55,185.9 272.3,185.3 C275.05,184.7 278.23,184.12 281.2,183 C284.17,181.88 287.35,179.95 290.1,178.6 C292.85,177.25 294.72,175.92 297.7,174.9 C300.68,173.88 305.28,173.05 308,172.5 C310.72,171.95 311.88,171.8 314,171.6 C316.12,171.4 318.32,171.3 320.7,171.3 C323.08,171.3 325.77,171.28 328.3,171.6 C330.83,171.92 333.35,172.28 335.9,173.2 C338.45,174.12 341.27,175.53 343.6,177.1 C345.93,178.67 347.75,180.42 349.9,182.6 C352.05,184.78 354.33,187.7 356.5,190.2 C358.67,192.7 361,195.57 362.9,197.6 C364.8,199.63 366.22,201.17 367.9,202.4 C369.58,203.63 371.2,204.42 373,205 C374.8,205.58 377.75,205.75 378.7,205.9" fill="none" stroke="#111" stroke-width="1.1" stroke-linejoin="round" stroke-linecap="round"/>
<path d="M252.3,188.6 C253.1,188.33 255.03,187.33 257.1,187 C259.17,186.67 262.17,186.97 264.7,186.6 C267.23,186.23 269.77,185.63 272.3,184.8 C274.83,183.97 277.67,182.88 279.9,181.6 C282.13,180.32 284.25,178.62 285.7,177.1 C287.15,175.58 287.33,174.65 288.6,172.5 C289.87,170.35 291.72,166.7 293.3,164.2 C294.88,161.7 296.35,159.25 298.1,157.5 C299.85,155.75 301.9,154.57 303.8,153.7 C305.7,152.83 307.43,152.53 309.5,152.3 C311.57,152.07 314.12,152.15 316.2,152.3 C318.28,152.45 320.43,152.67 322,153.2 C323.57,153.73 323.95,154.48 325.6,155.5 C327.25,156.52 330.12,157.93 331.9,159.3 C333.68,160.67 334.95,162.25 336.3,163.7 C337.65,165.15 338.65,166.45 340,168 C341.35,169.55 342.53,170.7 344.4,173 C346.27,175.3 348.97,178.75 351.2,181.8 C353.43,184.85 355.83,188.57 357.8,191.3 C359.77,194.03 361.3,196.27 363,198.2 C364.7,200.13 366.33,201.67 368,202.9 C369.67,204.13 371.22,205.03 373,205.6 C374.78,206.17 377.75,206.18 378.7,206.3" fill="none" stroke="#2a3cff" stroke-width="1.1" stroke-linejoin="round" stroke-linecap="round"/>
<path d="M252.3,188.6 C253.1,188.33 255.03,187.33 257.1,187 C259.17,186.67 262.17,186.97 264.7,186.6 C267.23,186.23 269.77,185.63 272.3,184.8 C274.83,183.97 277.67,182.88 279.9,181.6 C282.13,180.32 284.25,178.62 285.7,177.1 C287.15,175.58 287.88,174.18 288.6,172.5 C289.32,170.82 289.53,168.7 290,167 C290.47,165.3 290.68,164.67 291.4,162.3 C292.12,159.93 293.35,155.18 294.3,152.8 C295.25,150.42 296.23,149.53 297.1,148 C297.97,146.47 298.6,144.63 299.5,143.6 C300.4,142.57 301.55,142.23 302.5,141.8 C303.45,141.37 303.68,141.2 305.2,141 C306.72,140.8 309.05,140.58 311.6,140.6 C314.15,140.62 317.75,140.73 320.5,141.1 C323.25,141.47 325.98,141.98 328.1,142.8 C330.22,143.62 331.72,144.42 333.2,146 C334.68,147.58 335.92,149.97 337,152.3 C338.08,154.63 338.82,157.45 339.7,160 C340.58,162.55 341.52,165.45 342.3,167.6 C343.08,169.75 342.92,170.57 344.4,172.9 C345.88,175.23 348.97,178.58 351.2,181.6 C353.43,184.62 355.83,188.3 357.8,191 C359.77,193.7 361.3,195.9 363,197.8 C364.7,199.7 366.33,201.2 368,202.4 C369.67,203.6 371.22,204.47 373,205 C374.78,205.53 377.75,205.5 378.7,205.6" fill="none" stroke="#ff2030" stroke-width="1.1" stroke-linejoin="round" stroke-linecap="round"/>
<path d="M252.3,188.6 C253.1,188.33 255.03,187.33 257.1,187 C259.17,186.67 262.17,186.97 264.7,186.6 C267.23,186.23 269.77,185.63 272.3,184.8 C274.83,183.97 277.67,182.88 279.9,181.6 C282.13,180.32 284.25,178.62 285.7,177.1 C287.15,175.58 287.02,174.65 288.6,172.5 C290.18,170.35 293.13,166.53 295.2,164.2 C297.27,161.87 299.08,159.8 301,158.5 C302.92,157.2 304.97,156.85 306.7,156.4 C308.43,155.95 309.5,155.8 311.4,155.8 C313.3,155.8 316.33,156.2 318.1,156.4 C319.87,156.6 319.92,156.3 322,157 C324.08,157.7 328.42,159.48 330.6,160.6 C332.78,161.72 333.53,162.42 335.1,163.7 C336.67,164.98 338.45,166.8 340,168.3 C341.55,169.8 342.53,170.55 344.4,172.7 C346.27,174.85 348.97,178.28 351.2,181.2 C353.43,184.12 355.83,187.6 357.8,190.2 C359.77,192.8 361.3,194.93 363,196.8 C364.7,198.67 366.12,200.3 368,201.4 C369.88,202.5 372.52,202.97 374.3,203.4 C376.08,203.83 377.97,203.9 378.7,204" fill="none" stroke="#22a022" stroke-width="1.1" stroke-linejoin="round" stroke-linecap="round"/>
<line x1="274.4" y1="198.3" x2="286.8" y2="198.3" stroke="#111" stroke-width="1.0"/>
<text x="287.8" y="200.1" font-size="5.4" stroke="#000" stroke-width="0.1">3 m/s, Surface 0, 4.0 MW/m<tspan font-size="3.2" dy="-2">2</tspan></text>
<line x1="274.4" y1="204.2" x2="286.8" y2="204.2" stroke="#2a3cff" stroke-width="1.0"/>
<text x="287.8" y="206" font-size="5.4" stroke="#000" stroke-width="0.1">3 m/s, Surface 1, 8.0 MW/m<tspan font-size="3.2" dy="-2">2</tspan></text>
<line x1="274.4" y1="210" x2="286.8" y2="210" stroke="#ff2030" stroke-width="1.0"/>
<text x="287.8" y="211.8" font-size="5.4" stroke="#000" stroke-width="0.1">3 m/s, Surface 2, 8.0 MW/m<tspan font-size="3.2" dy="-2">2</tspan></text>
<line x1="274.4" y1="215.8" x2="286.8" y2="215.8" stroke="#22a022" stroke-width="1.0"/>
<text x="287.8" y="217.6" font-size="5.4" stroke="#000" stroke-width="0.1">3 m/s, Surface 3, 8.0 MW/m<tspan font-size="3.2" dy="-2">2</tspan></text>
</svg>
</body></html>
